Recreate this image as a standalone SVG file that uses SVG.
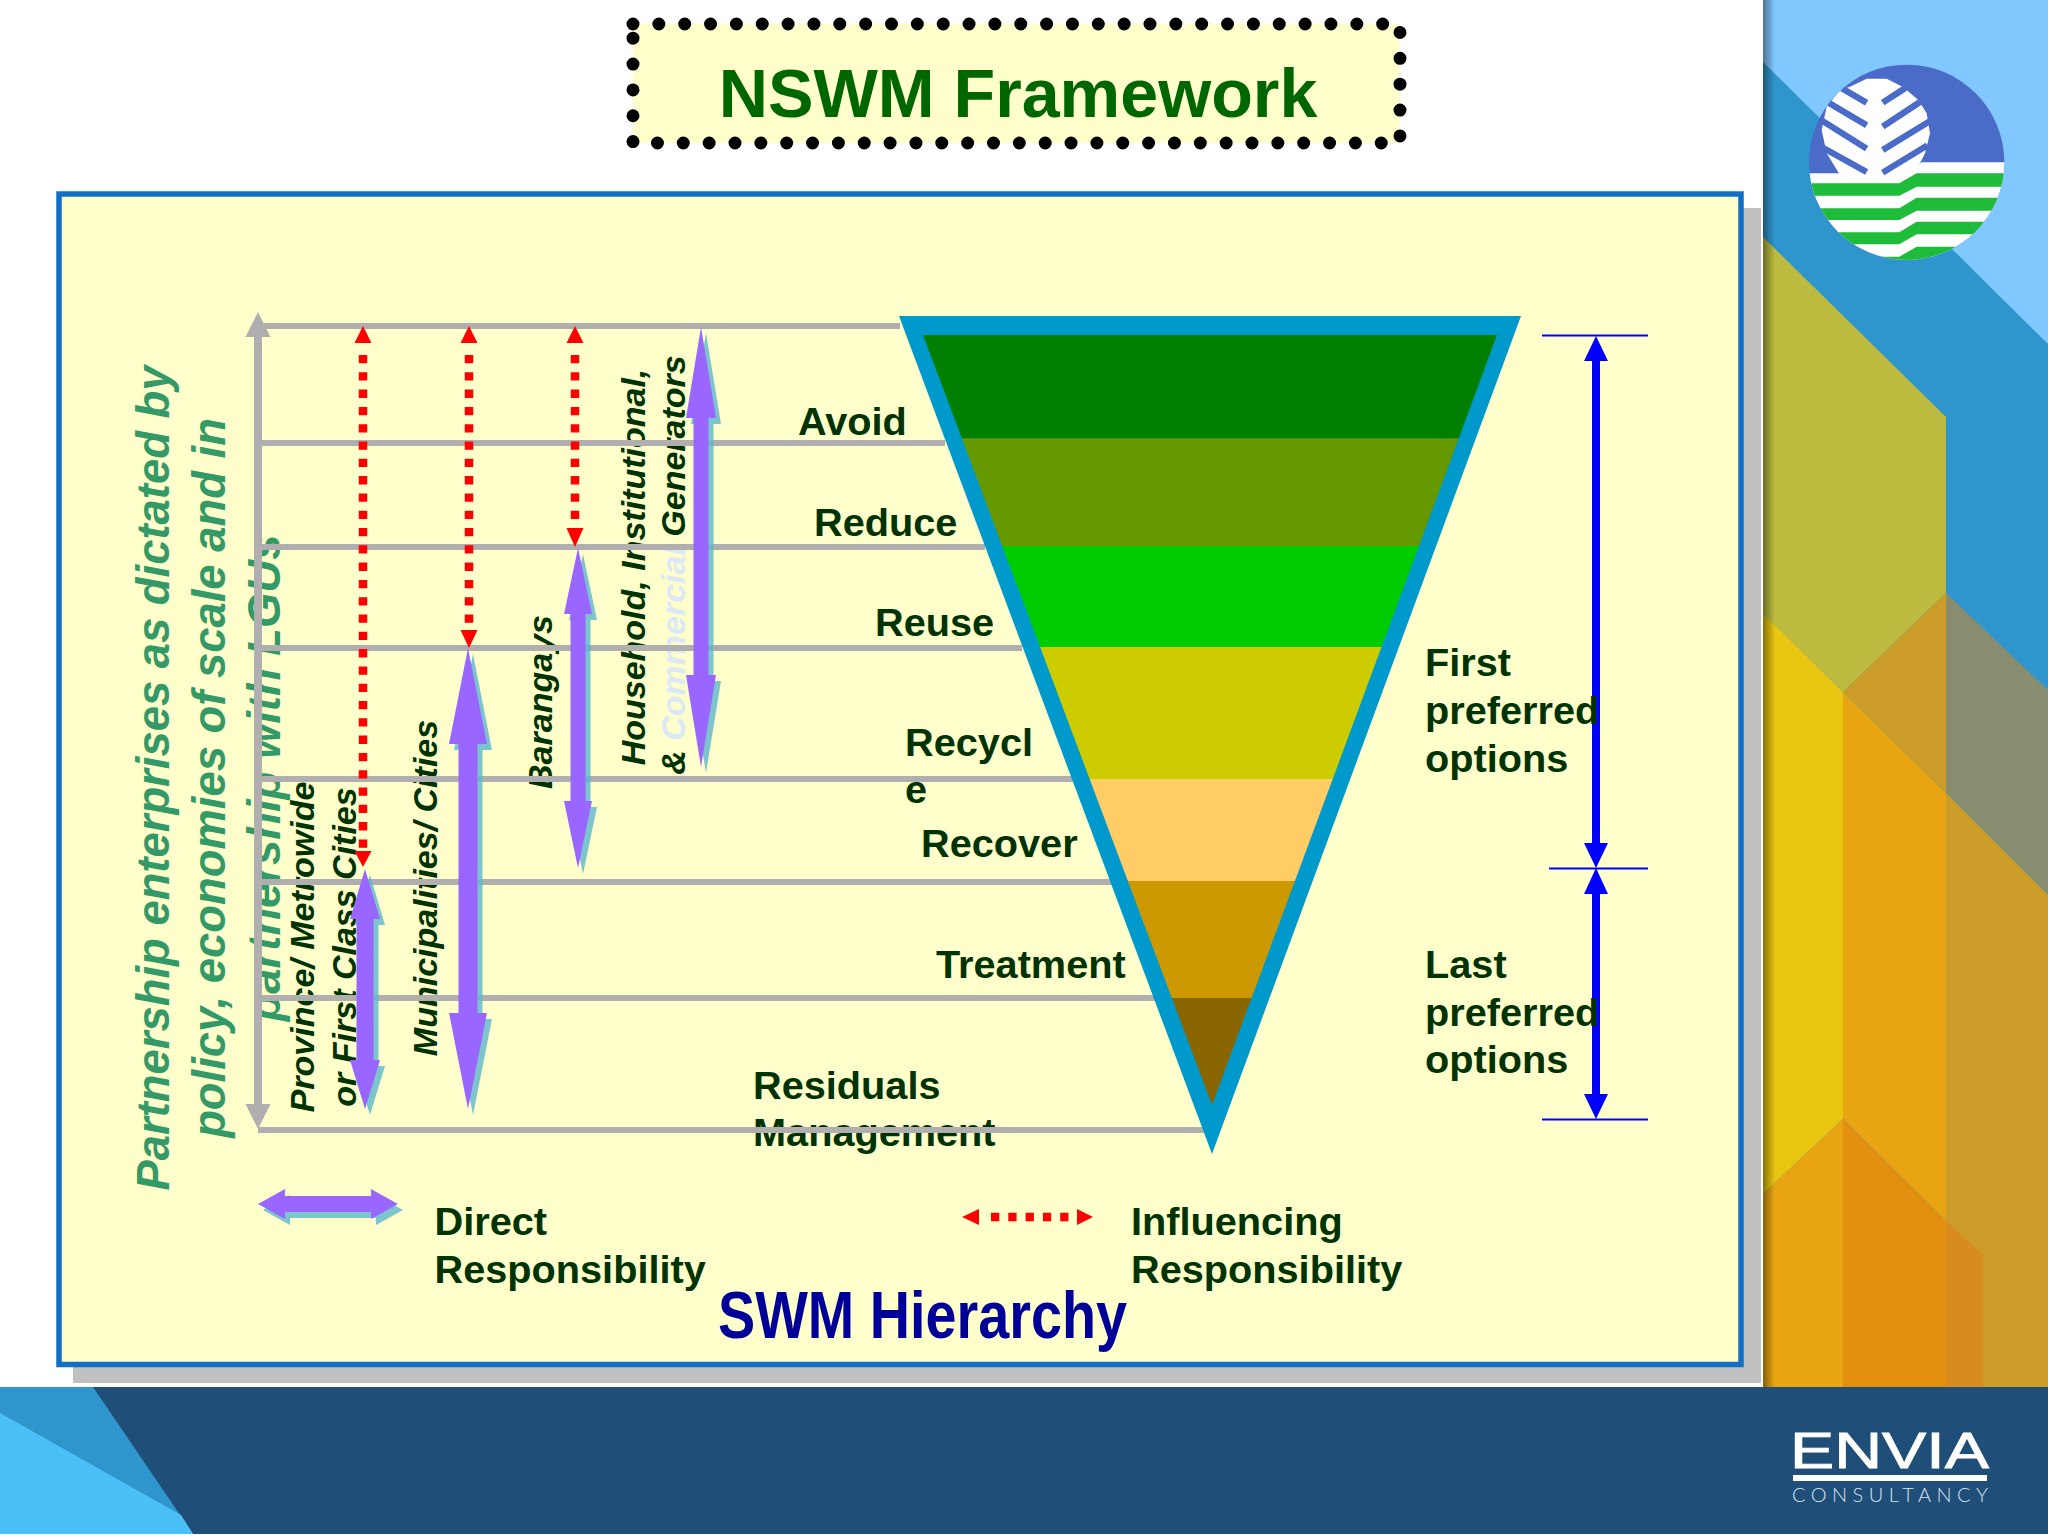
<svg xmlns="http://www.w3.org/2000/svg" width="2048" height="1536" viewBox="0 0 2048 1536">
<style>
text{font-family:"Liberation Sans",Arial,sans-serif;font-weight:bold}
.lab{font-size:39.7px;fill:#003300}
.vert{font-size:34px;font-style:italic;fill:#003300;text-anchor:middle}
.part{font-size:45.4px;font-style:italic;fill:#339966;text-anchor:middle}
.grid{stroke:#b0aeae;stroke-width:6;fill:none}
.red{stroke:#ff0000;stroke-width:8.5;stroke-dasharray:8.3 9;fill:none}
.redh{fill:#ff0000}
.pur{fill:#9966ff}
.sha{fill:#5fb8cc;opacity:.82}
.blue{stroke:#0000ff;fill:none}
.blueh{fill:#0000ff}
.band{fill:#1fbb3a}
.lf{stroke:#4a6bc8;stroke-width:19;fill:none}
</style>
<defs>
<linearGradient id="edge" x1="0" x2="1" y1="0" y2="0"><stop offset="0" stop-color="#000" stop-opacity=".42"/><stop offset="1" stop-color="#000" stop-opacity="0"/></linearGradient>
<clipPath id="lc"><circle cx="500" cy="487" r="293"/></clipPath>
<polygon id="d1" points="365,869 380,919 373.5,919 373.5,1060 380,1060 365,1109 350,1060 356.500,1060 356.500,919 350,919"/>
<polygon id="d2" points="468,648 487,744 477.5,744 477.5,1013 487,1013 468,1109 449,1013 458.5,1013 458.5,744 449,744"/>
<polygon id="d3" points="578,548 592,614 585.5,614 585.5,801 592,801 578,868 564,801 570.5,801 570.5,614 564,614"/>
<polygon id="d4" points="701,327 716,418 708.5,418 708.5,675 716,675 701,767 686,675 693.5,675 693.5,418 686,418"/>
<polygon id="d5" points="258,1204 285,1189 285,1196 371,1196 371,1189 398,1204 371,1219 371,1212 285,1212 285,1219"/>
</defs>

<g id="background">
<rect width="2048" height="1536" fill="#ffffff"/>
<rect x="1763" y="0" width="285" height="1387" fill="#80c8ff"/>
<polygon points="1763,62 2048,344 2048,1387 1763,1387" fill="#2e96cc"/>
<polygon points="1763,237 1946,417 1946,593 1843,692 1763,613" fill="#bcbb40"/>
<polygon points="1763,613 1843,692 1843,1119 1763,1194" fill="#e8c510"/>
<polygon points="1843,692 1946,793 1946,1221 1843,1119" fill="#e8a511"/>
<polygon points="1843,692 1946,593 1946,793" fill="#cd9d2a"/>
<polygon points="1946,593 2048,690 2048,895 1946,793" fill="#888d70"/>
<polygon points="1946,793 2048,895 2048,1387 1946,1387" fill="#cd9d2a"/>
<polygon points="1763,1194 1843,1119 1843,1387 1763,1387" fill="#e8a511"/>
<polygon points="1843,1119 1946,1221 1946,1387 1843,1387" fill="#e38f10"/>
<polygon points="1946,1221 1983,1255 1983,1387 1946,1387" fill="#d88c20"/>
<rect x="1763" y="0" width="12" height="1387" fill="url(#edge)"/>
<rect x="0" y="1387" width="2048" height="147" fill="#1f4e79"/>
<polygon points="0,1387 93,1387 193,1534 0,1534" fill="#2e96cc"/>
<polygon points="0,1413 181,1515 193,1534 0,1534" fill="#4bc0f8"/>
</g>

<g id="dept-logo" transform="translate(1740 0) scale(.33333)">
<circle cx="500" cy="487" r="293" fill="#4a6bc8"/>
<g clip-path="url(#lc)">
<path d="M200 520H500L545 487H800V800H200Z" fill="#ffffff"/>
<polygon points="330,260 380,236 440,236 490,262 535,300 560,340 570,400 555,460 540,490 500,530 300,525 260,460 245,390 260,320 300,270" fill="#ffffff"/>
<path class="lf" d="M380 308L300 262M380 376L262 306M380 446L240 358M380 516L250 444M428 308L496 264M428 380L540 306M428 450L572 362M428 518L562 436"/>
<path class="band" d="M200 550H478L530 520H800V560H530L478 587H200Z"/>
<path class="band" d="M200 625H478L530 593H800V632H530L478 660H200Z"/>
<path class="band" d="M200 697H478L530 665H800V703H530L478 733H200Z"/>
<path class="band" d="M200 770H478L530 740H800V800H200Z"/>
</g>
</g>

<g id="envia-logo">
<text x="1790" y="1468" font-size="50" textLength="199" lengthAdjust="spacingAndGlyphs" fill="#ffffff" stroke="#ffffff" stroke-width=".9" style="font-weight:normal">ENVIA</text>
<rect x="1793" y="1475" width="194" height="6" fill="#ffffff"/>
<text x="1792" y="1502" font-size="20" textLength="196" lengthAdjust="spacing" fill="#d5e3ef" style="font-family:Lato,sans-serif;font-weight:300">CONSULTANCY</text>
</g>

<g id="title">
<path d="M633 24H1400V143H633Z" fill="#ffffcc"/>
<path d="M633 24H1400V143H633Z" fill="none" stroke="#000000" stroke-width="13" stroke-linecap="round" stroke-dasharray="0 25.85"/>
<text x="1018" y="117" font-size="68.2" fill="#006600" text-anchor="middle">NSWM Framework</text>
</g>

<g id="panel">
<rect x="73" y="208" width="1688" height="1175" fill="#c0c0c0"/>
<rect x="59" y="194" width="1682" height="1170.500" fill="#ffffcc" stroke="#1170c4" stroke-width="5.5"/>
</g>

<g id="side-labels">
<text class="part" transform="translate(169 778) rotate(-90)">Partnership enterprises as dictated by</text>
<text class="part" transform="translate(225 778) rotate(-90)">policy, economies of scale and in</text>
<text class="part" transform="translate(280 778) rotate(-90)">partnership with LGUs</text>
<text class="vert" transform="translate(314 947) rotate(-90)">Province/ Metrowide</text>
<text class="vert" transform="translate(356 947) rotate(-90)">or First Class Cities</text>
<text class="vert" transform="translate(437 888) rotate(-90)">Municipalities/ Cities</text>
<text class="vert" transform="translate(552 702) rotate(-90)">Barangays</text>
<text class="vert" transform="translate(645 567) rotate(-90)">Household, Institutional,</text>
<text class="vert" transform="translate(685 565) rotate(-90)">&amp; <tspan fill="#dbe9f7">Commercial</tspan> Generators</text>
</g>

<g id="hierarchy-labels">
<text class="lab" x="798" y="435">Avoid</text>
<text class="lab" x="814" y="536">Reduce</text>
<text class="lab" x="875" y="636">Reuse</text>
<text class="lab" x="905" y="756">Recycl</text>
<text class="lab" x="905" y="803">e</text>
<text class="lab" x="921" y="857">Recover</text>
<text class="lab" x="936" y="978">Treatment</text>
<text class="lab" x="753" y="1099">Residuals</text>
<text class="lab" x="753" y="1146">Management</text>
</g>

<g id="connectors">
<path class="grid" d="M262 326H900M262 443H945M262 547H985M262 648H1022M262 779H1080M262 882H1122M262 998H1165M258 1130H1205"/>
<rect x="254" y="335" width="8" height="771" fill="#b0aeae"/>
<polygon points="258,312 270.500,337 245.500,337" fill="#b0aeae"/>
<polygon points="258,1129 270.500,1104 245.500,1104" fill="#b0aeae"/>
<path class="red" d="M363 355V851M469 355V630M575 355V528"/>
<polygon class="redh" points="363,326 371.500,343 354.500,343"/>
<polygon class="redh" points="469,326 477.500,343 460.500,343"/>
<polygon class="redh" points="575,326 583.500,343 566.500,343"/>
<polygon class="redh" points="363,867 371.500,851 354.500,851"/>
<polygon class="redh" points="469,648 477.500,630 460.500,630"/>
<polygon class="redh" points="575,547 583.500,528 566.500,528"/>
<use href="#d1" class="sha" x="5" y="6"/><use href="#d1" class="pur"/>
<use href="#d2" class="sha" x="5" y="6"/><use href="#d2" class="pur"/>
<use href="#d3" class="sha" x="5" y="6"/><use href="#d3" class="pur"/>
<use href="#d4" class="sha" x="5" y="6"/><use href="#d4" class="pur"/>
<use href="#d5" class="sha" x="5" y="6"/><use href="#d5" class="pur"/>
<path class="red" d="M991 1217H1070" />
<polygon class="redh" points="962,1217 979,1209 979,1225"/>
<polygon class="redh" points="1093,1217 1077,1209 1077,1225"/>
<path class="blue" stroke-width="2" d="M1542 335.500H1648M1549 868.500H1648M1542 1119.500H1648"/>
<path class="blue" stroke-width="8" d="M1596 355V848M1596 889V1100"/>
<polygon class="blueh" points="1596,336 1608,361 1584,361"/>
<polygon class="blueh" points="1596,868 1608,843 1584,843"/>
<polygon class="blueh" points="1596,868 1608,894 1584,894"/>
<polygon class="blueh" points="1596,1119 1608,1094 1584,1094"/>
</g>

<g id="pyramid">
<polygon points="899,316 1521,316 1212,1154" fill="#0099cc"/>
<polygon points="923,335 1497,335 1458.700,438.600 961.900,438.600" fill="#007f00"/>
<polygon points="961.900,438.600 1458.700,438.600 1418.900,546 1002.200,546" fill="#669900"/>
<polygon points="1002.200,546 1418.900,546 1381.500,647 1040.100,647" fill="#00cc00"/>
<polygon points="1040.100,647 1381.500,647 1332.700,779 1089.600,779" fill="#cccc00"/>
<polygon points="1089.600,779 1332.700,779 1294.900,881 1127.900,881" fill="#ffcc66"/>
<polygon points="1127.900,881 1294.900,881 1251.600,998 1171.800,998" fill="#cc9900"/>
<polygon points="1171.800,998 1251.600,998 1212,1105" fill="#8a6600"/>
</g>

<g id="preference-labels">
<text class="lab" x="1425" y="676">First</text>
<text class="lab" x="1425" y="724">preferred</text>
<text class="lab" x="1425" y="772">options</text>
<text class="lab" x="1425" y="978">Last</text>
<text class="lab" x="1425" y="1026">preferred</text>
<text class="lab" x="1425" y="1073">options</text>
</g>

<g id="legend">
<text class="lab" x="434.500" y="1235">Direct</text>
<text class="lab" x="434.500" y="1283">Responsibility</text>
<text class="lab" x="1131" y="1235">Influencing</text>
<text class="lab" x="1131" y="1283">Responsibility</text>
<text x="718" y="1338" font-size="66" fill="#000099" textLength="409" lengthAdjust="spacingAndGlyphs" style="font-family:'Liberation Sans Narrow','Liberation Sans',sans-serif">SWM Hierarchy</text>
</g>
</svg>
